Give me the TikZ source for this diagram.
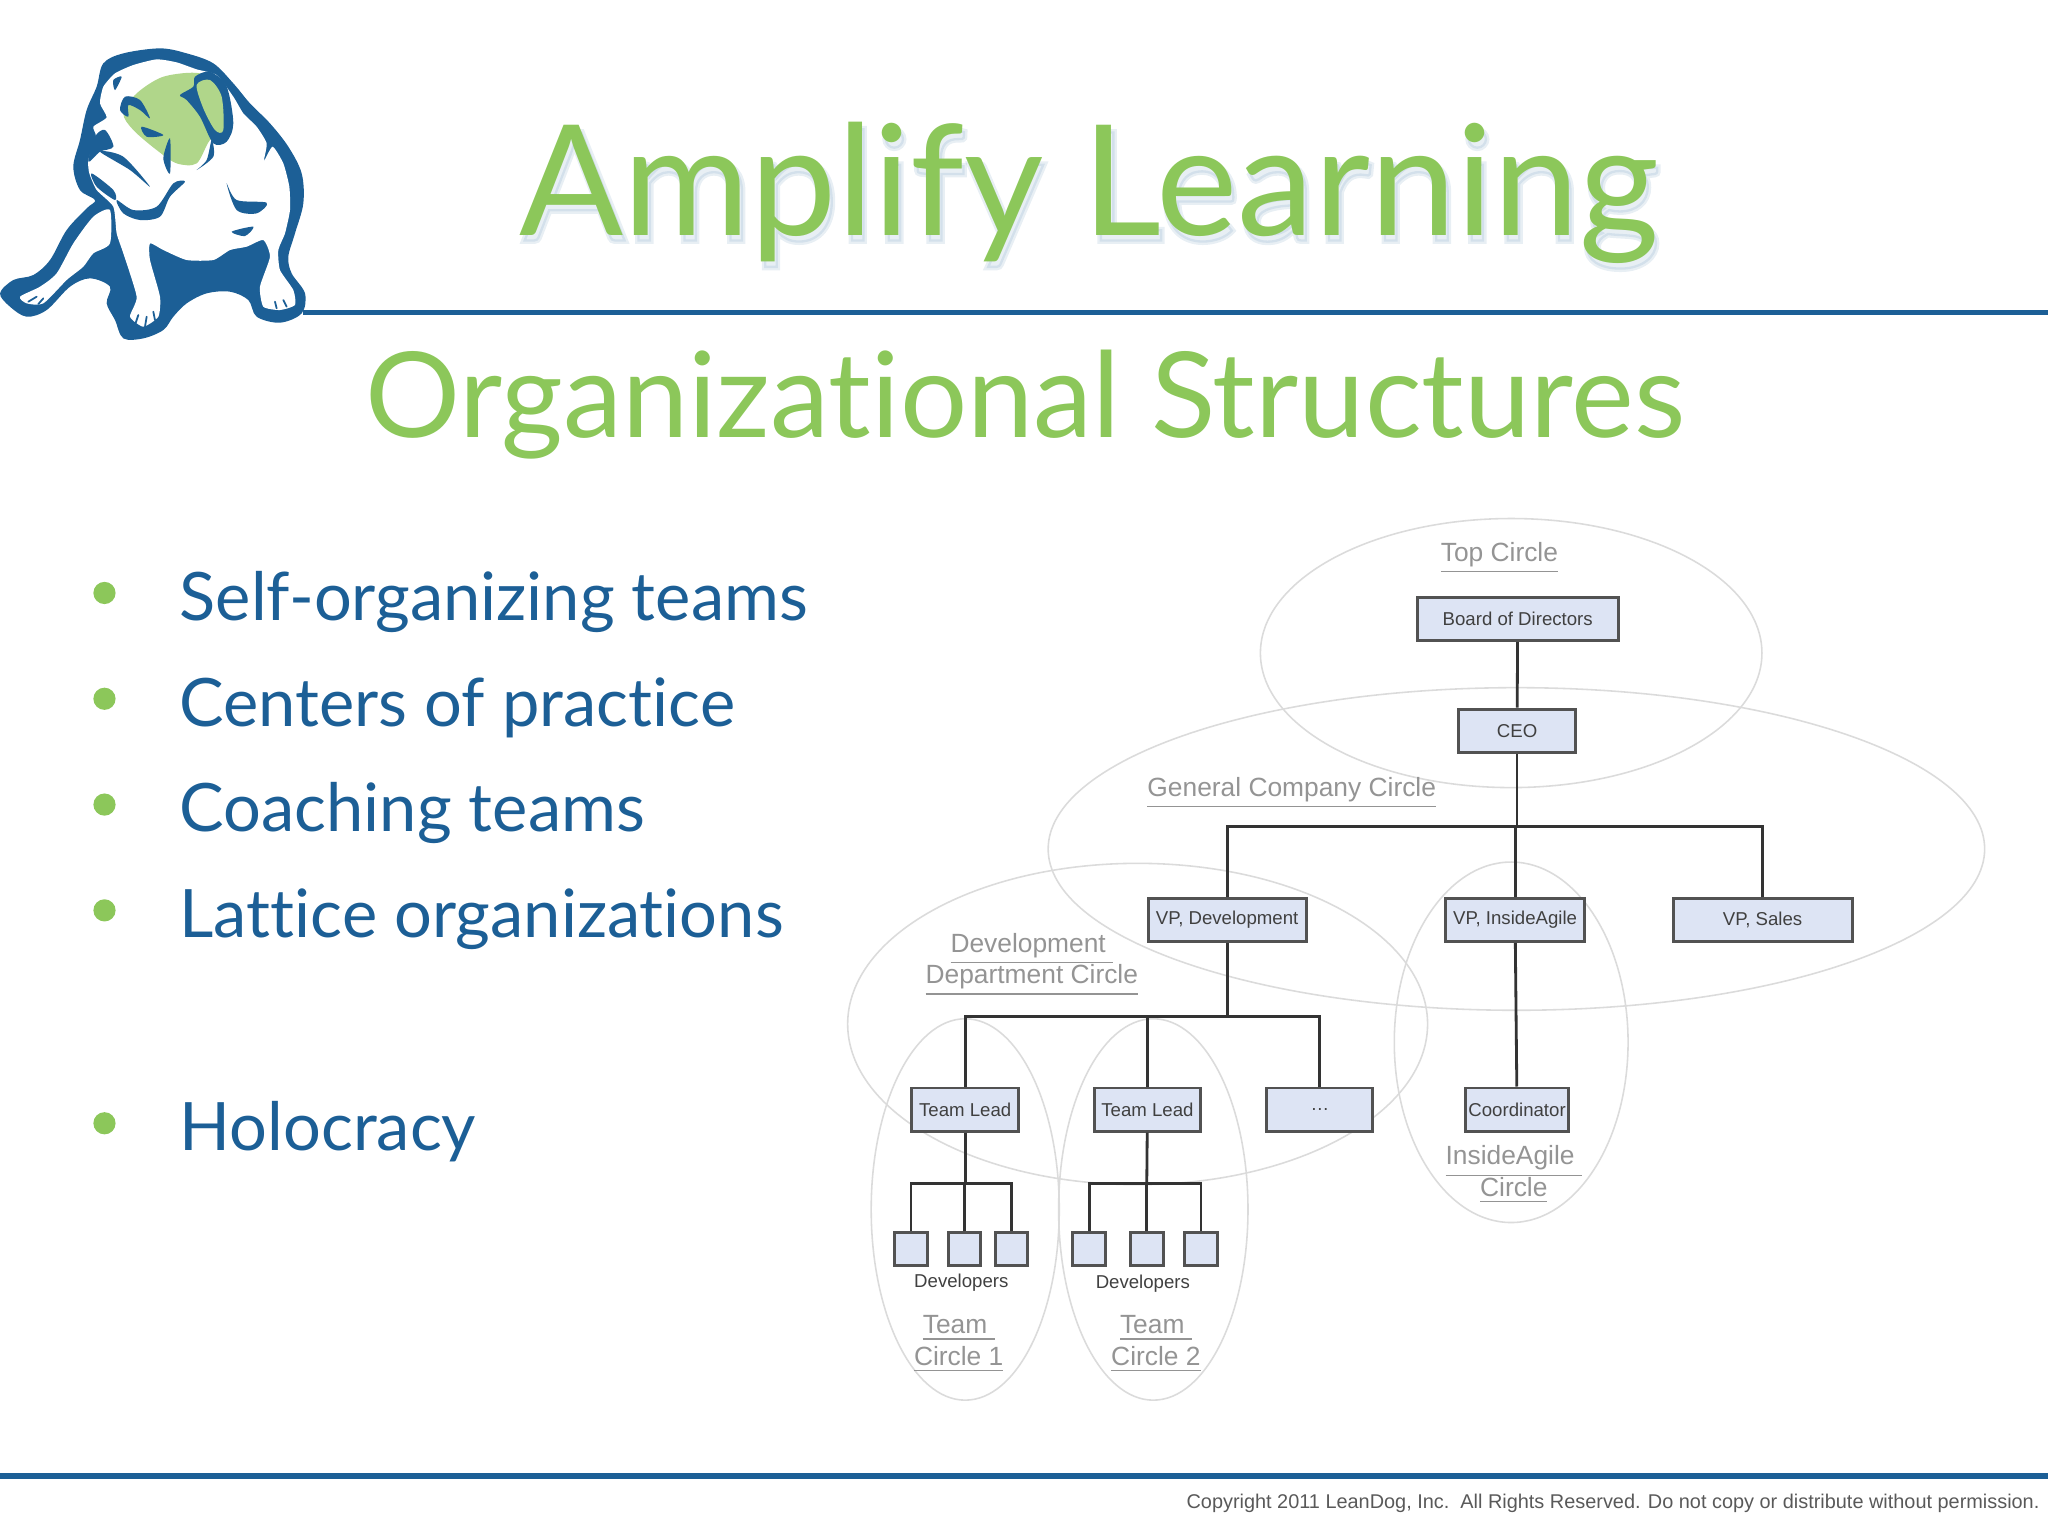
\documentclass[tikz,border=0pt]{standalone}
\usepackage{fontspec}
\setmainfont{Liberation Sans}
\newfontfamily\slidefont[Ligatures=NoCommon]{Lato}
\newfontfamily\glowfont[Ligatures=NoCommon,FakeBold=3]{Lato}
\usetikzlibrary{shapes.geometric}
\definecolor{dogblue}{HTML}{1C5F96}
\definecolor{leaf}{HTML}{8CC75A}
\definecolor{patch}{HTML}{B0D68A}
\definecolor{boxfill}{HTML}{DDE4F4}
\def\un{0.013061cm}
\tikzstyle{box}=[draw=black!68,line width=0.85pt,fill=boxfill,inner sep=0pt,minimum height=33*\un,text=black!75,font=\fontsize{5.3}{6}\selectfont]
\tikzstyle{devbox}=[box,minimum width=25*\un,minimum height=25*\un]
\tikzstyle{devtext}=[inner sep=0pt,text=black!75,font=\fontsize{5.3}{6}\selectfont]
\tikzstyle{ring}=[draw=black!14,line width=0.45pt,ellipse,inner sep=0pt]
\tikzstyle{wire}=[draw=black!80,line width=0.8pt]
\tikzstyle{circlelabel}=[text=black!42,align=center,inner sep=0pt,font=\fontsize{7.5}{8.9}\selectfont]
\tikzstyle{item}=[anchor=base west,inner sep=0pt,text=dogblue,font=\slidefont\fontsize{19}{23}\selectfont]
\tikzstyle{bullet}=[circle,fill=leaf,inner sep=0pt,minimum size=17*\un]
\tikzstyle{rule}=[draw=dogblue,line width=1.5pt]
\tikzstyle{headline}=[anchor=base,inner sep=0pt,font=\slidefont\fontsize{43.8}{48}\selectfont]
\tikzstyle{glow}=[anchor=base,inner sep=0pt,text=dogblue,text opacity=.1,font=\glowfont\fontsize{43.8}{48}\selectfont]
\tikzstyle{dogline}=[draw=dogblue,line width=0.5pt,line cap=round]
\begin{document}
\begin{tikzpicture}[x=\un,y=-\un]
    \useasboundingbox (0,0) rectangle (1568,1176);
    % logo
    \begin{scope}[shift={(0,23)},scale=0.2552]
        \fill[dogblue] plot[smooth cycle,tension=.55] coordinates {(480,55) (560,70) (640,100) (700,160) (750,220) (810,280) (865,350) (905,430) (910,520) (885,610) (865,680) (875,730) (915,790) (905,850) (840,878) (770,860) (745,810) (690,785) (620,790) (560,820) (520,860) (490,900) (430,925) (370,925) (345,870) (320,820) (330,770) (270,745) (210,770) (140,840) (80,860) (30,830) (0,790) (40,750) (100,735) (150,690) (200,600) (260,535) (285,510) (240,480) (220,410) (240,330) (260,240) (290,170) (310,100) (370,70)};
        \fill[white] plot[smooth cycle,tension=.35] coordinates {(345,130) (400,105) (470,88) (530,97) (590,118) (650,135) (700,200) (730,250) (770,290) (800,340) (792,392) (818,350) (850,400) (868,470) (870,540) (855,610) (835,660) (840,720) (880,780) (885,825) (840,840) (790,830) (780,770) (810,680) (790,630) (740,650) (690,660) (640,690) (560,690) (490,660) (450,640) (450,690) (480,800) (475,860) (430,890) (390,860) (410,800) (370,670) (350,610) (340,530) (290,480) (268,430) (265,390) (288,320) (280,290) (320,262) (300,220) (310,170)};
        \fill[white] plot[smooth cycle,tension=.4] coordinates {(60,800) (120,770) (170,730) (220,640) (280,560) (330,540) (330,640) (280,670) (250,710) (200,750) (130,820) (80,820)};
        \fill[patch] plot[smooth cycle,tension=.5] coordinates {(410,190) (490,140) (600,130) (660,180) (680,300) (630,330) (590,400) (530,400) (470,360) (400,300) (370,250)};
        % folds
        \fill[dogblue] plot[smooth cycle,tension=.5] coordinates {(540,195) (580,170) (585,140) (630,125) (680,170) (700,280) (680,335) (640,340) (600,260) (560,210)};
        \fill[patch] plot[smooth cycle,tension=.5] coordinates {(590,165) (630,150) (665,200) (670,300) (645,300) (610,235)};
        \fill[dogblue] plot[smooth cycle,tension=.5] coordinates {(360,240) (375,200) (420,210) (450,265) (420,240) (385,225) (385,260)};
        \fill[dogblue] plot[smooth cycle,tension=.5] coordinates {(425,290) (490,315) (440,320)};
        \fill[dogblue] plot[smooth cycle,tension=.5] coordinates {(490,385) (510,325) (510,430)};
        \fill[dogblue] plot[smooth cycle,tension=.5] coordinates {(635,330) (640,380) (590,420) (620,390)};
        \fill[dogblue] plot[smooth cycle,tension=.5] coordinates {(285,320) (315,300) (340,350) (300,365) (265,395)};
        \fill[dogblue] plot[smooth cycle,tension=.5] coordinates {(300,365) (370,380) (450,470) (390,420)};
        \fill[dogblue] plot[smooth cycle,tension=.5] coordinates {(275,430) (340,480) (345,510) (290,470)};
        \fill[dogblue] plot[smooth cycle,tension=.5] coordinates {(350,510) (400,540) (470,530) (520,460) (555,455) (510,500) (480,560) (420,570) (370,550)};
        \fill[dogblue] plot[smooth cycle,tension=.5] coordinates {(680,460) (710,510) (800,518) (770,550) (710,540)};
        \fill[dogblue] plot[smooth cycle,tension=.5] coordinates {(695,605) (760,590) (735,618)};
        \fill[dogblue] plot[smooth cycle,tension=.5] coordinates {(340,150) (365,140) (345,180)};
        % toes
        \draw[dogline] (405,885) -- (415,855);
        \draw[dogline] (435,890) -- (440,860);
        \draw[dogline] (465,870) -- (460,845);
        \draw[dogline] (830,835) -- (825,815);
        \draw[dogline] (860,830) -- (850,810);
        \draw[dogline] (85,815) -- (110,800);
        \draw[dogline] (115,822) -- (130,805);
    \end{scope}
    % title and rules
    \node[glow] (shade) at (836,185) {Amplify Learning};
    \node[headline,text=leaf] (title) at (834,180) {Amplify Learning};
    \node[headline,text=leaf,font=\slidefont\fontsize{33.8}{38}\selectfont] (subtitle) at (785,335) {Organizational Structures};
    \coordinate (ruleA) at (232,239);
    \coordinate (ruleB) at (1568,239);
    \coordinate (ruleC) at (0,1130);
    \coordinate (ruleD) at (1568,1130);
    \draw[rule] (ruleA) -- (ruleB);
    \draw[rule] (ruleC) -- (ruleD);
    \node[anchor=base east,inner sep=0pt,text=black!65,font=\fontsize{5.66}{7}\selectfont] (copyright) at (1562,1155) {Copyright 2011 LeanDog, Inc.\ \ All Rights Reserved. Do not copy or distribute without permission.};
    % list
    \foreach \name/\ypos/\txt in {self/475/Self-organizing teams,centers/556/Centers of practice,coaching/637/Coaching teams,lattice/718/Lattice organizations,holo/881/Holocracy}{
        \node[bullet] (dot\name) at (80,\ypos-21) {};
        \node[item] (\name) at (137,\ypos) {\txt};
    }
    % circles
    \node[ring,minimum width=384*\un,minimum height=206*\un] (topring) at (1157,500) {};
    \node[ring,minimum width=717*\un,minimum height=247*\un] (companyring) at (1161,650) {};
    \node[ring,minimum width=444*\un,minimum height=246*\un] (devring) at (871,784) {};
    \node[ring,minimum width=179*\un,minimum height=276*\un] (agilering) at (1157,798) {};
    \node[ring,minimum width=144*\un,minimum height=292*\un] (teamringA) at (739,926) {};
    \node[ring,minimum width=145*\un,minimum height=292*\un] (teamringB) at (883,926) {};
    \node[circlelabel] (toplabel) at (1148,427) {\underline{Top Circle}};
    \node[circlelabel] (companylabel) at (989,607) {\underline{General Company Circle}};
    \node[circlelabel] (devlabel) at (790,738.5) {\underline{Development\ }\\[-1pt]\underline{Department Circle}};
    \node[circlelabel] (agilelabel) at (1159,899.5) {\underline{InsideAgile\ }\\[-1pt]\underline{Circle}};
    \node[circlelabel] (teamlabelA) at (734,1029) {\underline{Team\ }\\\underline{Circle 1}};
    \node[circlelabel] (teamlabelB) at (885,1029) {\underline{Team\ }\\\underline{Circle 2}};
    % boxes
    \node[box,minimum width=154*\un] (board) at (1162,474) {Board of Directors};
    \node[box,minimum width=89*\un] (ceo) at (1161.5,559.5) {CEO};
    \node[box,minimum width=121*\un] (vpdev) at (939.5,704.5) {VP, Development};
    \node[box,minimum width=106*\un] (vpagile) at (1160,704.5) {VP, InsideAgile};
    \node[box,minimum width=137*\un] (vpsales) at (1349.5,704.5) {VP, Sales};
    \node[box,minimum width=82*\un] (leadA) at (739,849.5) {Team Lead};
    \node[box,minimum width=81*\un] (leadB) at (878.5,849.5) {Team Lead};
    \node[box,minimum width=81*\un] (more) at (1010.5,849.5) {\ldots};
    \node[box,minimum width=79*\un] (coord) at (1161.5,849.5) {Coordinator};
    \node[devbox] (devA) at (697.5,956.5) {};
    \node[devbox] (devB) at (738.5,956.5) {};
    \node[devbox] (devC) at (774.5,956.5) {};
    \node[devbox] (devD) at (834,956.5) {};
    \node[devbox] (devE) at (878,956.5) {};
    \node[devbox] (devF) at (919.5,956.5) {};
    \node[devtext] (devtextA) at (736,982) {Developers};
    \node[devtext] (devtextB) at (875,983) {Developers};
    % connectors
    \coordinate (busA) at (1161.5,633);
    \coordinate (busB) at (939.5,778);
    \coordinate (busC) at (739,906);
    \coordinate (busD) at (878,906);
    \draw[wire] (board) -- (ceo);
    \draw[wire] (ceo) -- (busA);
    \draw[wire] (vpdev.north) |- (busA);
    \draw[wire] (vpsales.north) |- (busA);
    \draw[wire] (vpagile.north) -- (vpagile.north |- busA);
    \draw[wire] (vpagile) -- (coord);
    \draw[wire] (vpdev) -- (busB);
    \draw[wire] (leadA.north) |- (busB);
    \draw[wire] (more.north) |- (busB);
    \draw[wire] (leadB.north) -- (leadB.north |- busB);
    \draw[wire] (leadA) -- (busC);
    \draw[wire] (devA.north) |- (busC);
    \draw[wire] (devC.north) |- (busC);
    \draw[wire] (devB.north) -- (devB.north |- busC);
    \draw[wire] (leadB) -- (busD);
    \draw[wire] (devD.north) |- (busD);
    \draw[wire] (devF.north) |- (busD);
    \draw[wire] (devE.north) -- (devE.north |- busD);
\end{tikzpicture}
\end{document}
